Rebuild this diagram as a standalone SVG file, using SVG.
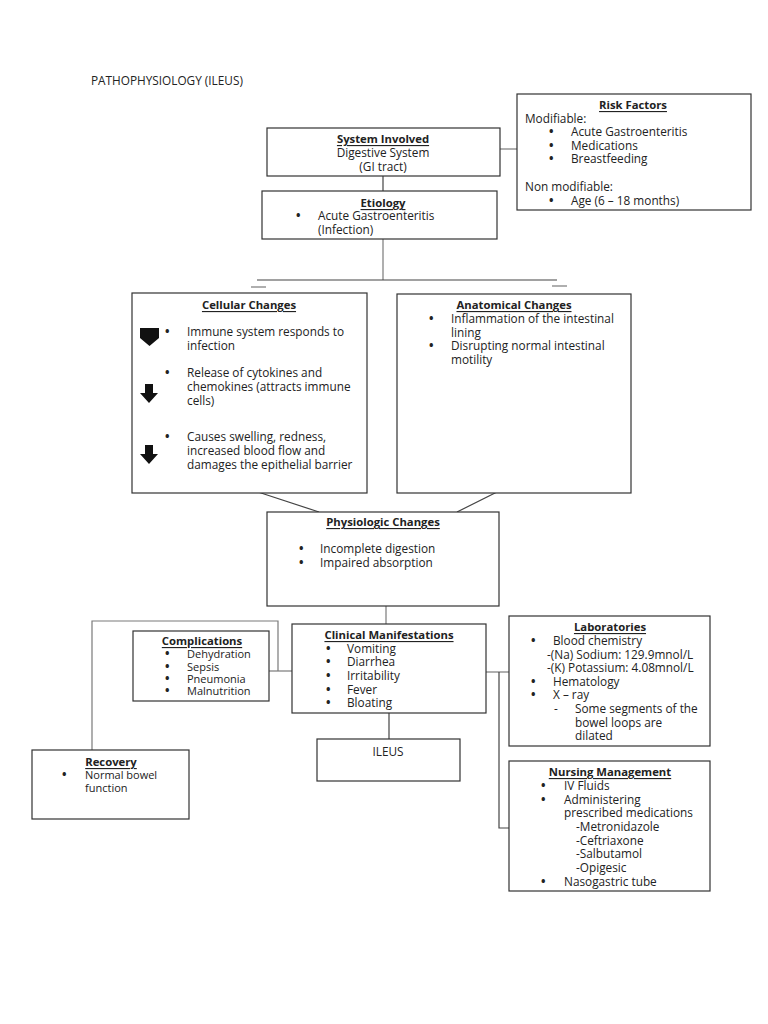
<svg xmlns="http://www.w3.org/2000/svg" width="768" height="1024" viewBox="0 0 768 1024">
<style>
text{font-family:"Open Sans","Noto Sans","Liberation Sans",sans-serif;font-size:11.8px;fill:#222;dominant-baseline:central}
.t{font-weight:bold;text-decoration:underline;text-anchor:middle;font-size:11.3px}
.c{text-anchor:middle}
.s{font-size:11px}
.b{font-size:12px;font-weight:bold}
.box{fill:#fff;stroke:#333;stroke-width:1.2}
.con{fill:none;stroke:#7a7a7a;stroke-width:1.2}
.dk{fill:none;stroke:#444;stroke-width:1.2}
.ar{fill:#111}
</style>
<rect width="768" height="1024" fill="#fff"/>
<text x="91" y="80">PATHOPHYSIOLOGY (ILEUS)</text>

<g id="connectors">
<line class="con" x1="500" y1="149" x2="517" y2="149"/>
<line class="dk" x1="383" y1="176" x2="383" y2="191"/>
<line class="con" x1="383" y1="239" x2="383" y2="280"/>
<line class="dk" x1="257" y1="280" x2="557" y2="280"/>
<line class="con" x1="251" y1="287" x2="266" y2="287"/>
<line class="con" x1="552" y1="286" x2="567" y2="286"/>
<line class="dk" x1="258" y1="492" x2="319" y2="512"/>
<line class="dk" x1="497" y1="492" x2="457" y2="512"/>
<line class="con" x1="386" y1="606" x2="386" y2="624"/>
<line class="con" x1="269" y1="671" x2="292" y2="671"/>
<path class="con" d="M92,750 V621 H278 V671"/>
<line class="dk" x1="389" y1="713" x2="389" y2="739"/>
<line class="con" x1="486" y1="672" x2="509" y2="672"/>
<path class="dk" d="M499,672 V828 H510"/>
</g>

<g id="risk-factors">
<rect class="box" x="517" y="94" width="234" height="116"/>
<text><tspan class="t" x="633" y="104">Risk Factors</tspan><tspan x="525" y="118">Modifiable:</tspan><tspan class="b" x="549" y="131">•</tspan><tspan x="571" y="131">Acute Gastroenteritis</tspan><tspan class="b" x="549" y="145">•</tspan><tspan x="571" y="145">Medications</tspan><tspan class="b" x="549" y="158">•</tspan><tspan x="571" y="158">Breastfeeding</tspan><tspan x="525" y="186">Non modifiable:</tspan><tspan class="b" x="549" y="200">•</tspan><tspan x="571" y="200">Age (6 – 18 months)</tspan></text>
</g>

<g id="system-involved">
<rect class="box" x="267" y="128" width="233" height="48"/>
<text class="c"><tspan class="t" x="383" y="138">System Involved</tspan><tspan x="383" y="152">Digestive System</tspan><tspan x="383" y="166">(GI tract)</tspan></text>
</g>

<g id="etiology">
<rect class="box" x="262" y="191" width="235" height="48"/>
<text><tspan class="t" x="383" y="202">Etiology</tspan><tspan class="b" x="296" y="215">•</tspan><tspan x="318" y="215">Acute Gastroenteritis</tspan><tspan x="318" y="229">(Infection)</tspan></text>
</g>

<g id="cellular-changes">
<rect class="box" x="132" y="293" width="235" height="200"/>
<path class="ar" d="M140,328 H159 V338 L149.5,346 L140,338 Z"/>
<path class="ar" d="M145,384 H153 V393 H158 L149,403 L140,393 H145 Z"/>
<path class="ar" d="M145,445 H153 V454 H158 L149,464 L140,454 H145 Z"/>
<text><tspan class="t" x="249" y="304">Cellular Changes</tspan><tspan class="b" x="165" y="331">•</tspan><tspan x="187" y="331">Immune system responds to</tspan><tspan x="187" y="345">infection</tspan><tspan class="b" x="165" y="372">•</tspan><tspan x="187" y="372">Release of cytokines and</tspan><tspan x="187" y="386">chemokines (attracts immune</tspan><tspan x="187" y="400">cells)</tspan><tspan class="b" x="165" y="436">•</tspan><tspan x="187" y="436">Causes swelling, redness,</tspan><tspan x="187" y="450">increased blood flow and</tspan><tspan x="187" y="464">damages the epithelial barrier</tspan></text>
</g>

<g id="anatomical-changes">
<rect class="box" x="397" y="294" width="234" height="199"/>
<text><tspan class="t" x="514" y="304">Anatomical Changes</tspan><tspan class="b" x="429" y="318">•</tspan><tspan x="451" y="318">Inflammation of the intestinal</tspan><tspan x="451" y="332">lining</tspan><tspan class="b" x="429" y="345">•</tspan><tspan x="451" y="345">Disrupting normal intestinal</tspan><tspan x="451" y="359">motility</tspan></text>
</g>

<g id="physiologic-changes">
<rect class="box" x="267" y="512" width="232" height="94"/>
<text><tspan class="t" x="383" y="521">Physiologic Changes</tspan><tspan class="b" x="299" y="548">•</tspan><tspan x="320" y="548">Incomplete digestion</tspan><tspan class="b" x="299" y="562">•</tspan><tspan x="320" y="562">Impaired absorption</tspan></text>
</g>

<g id="complications">
<rect class="box" x="133" y="631" width="136" height="70"/>
<text class="s"><tspan class="t" x="202" y="640">Complications</tspan><tspan class="b s" x="165" y="653">•</tspan><tspan x="187" y="653">Dehydration</tspan><tspan class="b s" x="165" y="666">•</tspan><tspan x="187" y="666">Sepsis</tspan><tspan class="b s" x="165" y="678">•</tspan><tspan x="187" y="678">Pneumonia</tspan><tspan class="b s" x="165" y="690">•</tspan><tspan x="187" y="690">Malnutrition</tspan></text>
</g>

<g id="clinical-manifestations">
<rect class="box" x="292" y="624" width="194" height="89"/>
<text><tspan class="t" x="389" y="634">Clinical Manifestations</tspan><tspan class="b" x="326" y="648">•</tspan><tspan x="347" y="648">Vomiting</tspan><tspan class="b" x="326" y="661">•</tspan><tspan x="347" y="661">Diarrhea</tspan><tspan class="b" x="326" y="675">•</tspan><tspan x="347" y="675">Irritability</tspan><tspan class="b" x="326" y="689">•</tspan><tspan x="347" y="689">Fever</tspan><tspan class="b" x="326" y="702">•</tspan><tspan x="347" y="702">Bloating</tspan></text>
</g>

<g id="ileus">
<rect class="box" x="317" y="739" width="143" height="42"/>
<text class="c" x="388" y="751">ILEUS</text>
</g>

<g id="recovery">
<rect class="box" x="32" y="750" width="157" height="69"/>
<text class="s"><tspan class="t" x="111" y="761">Recovery</tspan><tspan class="b s" x="62" y="774">•</tspan><tspan x="85" y="774">Normal bowel</tspan><tspan x="85" y="787">function</tspan></text>
</g>

<g id="laboratories">
<rect class="box" x="509" y="616" width="201" height="130"/>
<text><tspan class="t" x="610" y="626">Laboratories</tspan><tspan class="b" x="531" y="640">•</tspan><tspan x="553" y="640">Blood chemistry</tspan><tspan x="547" y="654">-(Na) Sodium: 129.9mnol/L</tspan><tspan x="547" y="667">-(K) Potassium: 4.08mnol/L</tspan><tspan class="b" x="531" y="681">•</tspan><tspan x="553" y="681">Hematology</tspan><tspan class="b" x="531" y="694">•</tspan><tspan x="553" y="694">X – ray</tspan><tspan x="554" y="708">-</tspan><tspan x="575" y="708">Some segments of the</tspan><tspan x="575" y="722">bowel loops are</tspan><tspan x="575" y="735">dilated</tspan></text>
</g>

<g id="nursing-management">
<rect class="box" x="509" y="761" width="201" height="130"/>
<text><tspan class="t" x="610" y="771">Nursing Management</tspan><tspan class="b" x="541" y="785">•</tspan><tspan x="564" y="785">IV Fluids</tspan><tspan class="b" x="541" y="799">•</tspan><tspan x="564" y="799">Administering</tspan><tspan x="564" y="812">prescribed medications</tspan><tspan x="576" y="826">-Metronidazole</tspan><tspan x="576" y="840">-Ceftriaxone</tspan><tspan x="576" y="853">-Salbutamol</tspan><tspan x="576" y="867">-Opigesic</tspan><tspan class="b" x="541" y="881">•</tspan><tspan x="564" y="881">Nasogastric tube</tspan></text>
</g>
</svg>
